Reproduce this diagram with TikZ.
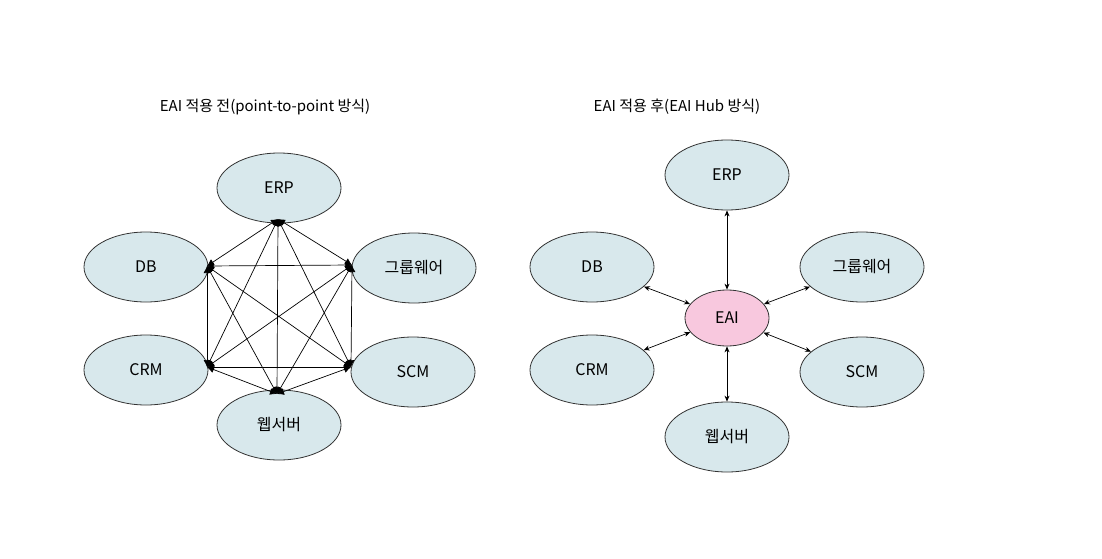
\documentclass[tikz,border=0pt]{standalone}
\usepackage{fontspec}
\setmainfont{Noto Sans CJK KR}
\usetikzlibrary{arrows.meta,shapes.geometric}
\definecolor{sysfill}{RGB}{216,232,236}
\definecolor{hubfill}{RGB}{248,200,222}
\begin{document}
\begin{tikzpicture}[x=1pt,y=-1pt,
  sys/.style={ellipse,draw=black!80,fill=sysfill,line width=0.8pt,minimum width=124pt,minimum height=70pt,font=\fontsize{16}{19}\selectfont},
  hub/.style={ellipse,draw=black!80,fill=hubfill,line width=0.8pt,minimum width=84pt,minimum height=56pt,font=\fontsize{16}{19}\selectfont},
  p2p/.style={line width=0.7pt,{Latex[length=7pt,width=7pt]}-{Latex[length=7pt,width=7pt]}},
  link/.style={line width=0.7pt,{Stealth[length=6pt,width=5pt]}-{Stealth[length=6pt,width=5pt]}},
  ttl/.style={font=\fontsize{15}{18}\selectfont}]
\useasboundingbox (0,0) rectangle (1102,559);
\node[ttl] (t1) at (265,107) {EAI 적용 전(point-to-point 방식)};
\node[ttl] (t2) at (677,107) {EAI 적용 후(EAI Hub 방식)};
% left
\node[sys] (le) at (279,188) {ERP};
\node[sys] (ld) at (146,267) {DB};
\node[sys] (lg) at (414,268) {그룹웨어};
\node[sys] (lc) at (146,370) {CRM};
\node[sys] (ls) at (413,372) {SCM};
\node[sys] (lw) at (279,425) {웹서버};
\coordinate (pe) at (278,219);
\coordinate (pd) at (207,266);
\coordinate (pg) at (352,265);
\coordinate (pc) at (207,367);
\coordinate (ps) at (351,367);
\coordinate (pw) at (277,394);
\foreach \a/\b in {pe/pd,pe/pg,pe/pc,pe/ps,pe/pw,pd/pg,pd/pc,pd/ps,pd/pw,pg/pc,pg/ps,pg/pw,pc/ps,pc/pw,ps/pw}
  \draw[p2p] (\a) -- (\b);
% right
\node[sys] (re) at (727,175) {ERP};
\node[sys] (rd) at (592,267) {DB};
\node[sys] (rg) at (862,267) {그룹웨어};
\node[sys] (rc) at (592,370) {CRM};
\node[sys] (rs) at (862,372) {SCM};
\node[sys] (rw) at (727,437) {웹서버};
\node[hub] (eai) at (727,318) {EAI};
\foreach \n in {re,rd,rg,rc,rs,rw}
  \draw[link] (\n) -- (eai);
\end{tikzpicture}
\end{document}
